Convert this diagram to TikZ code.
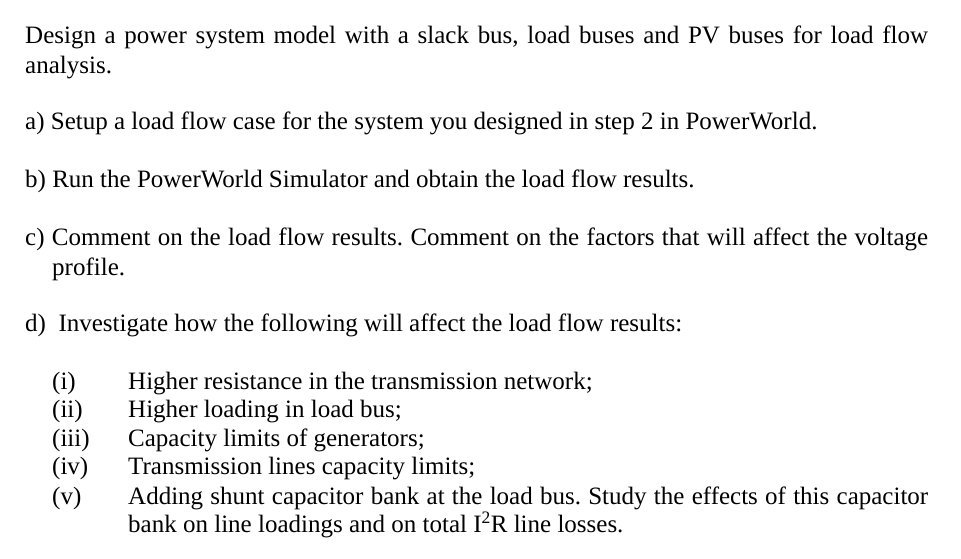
\documentclass[tikz,border=0pt]{standalone}
\usepackage{fontspec}
\setmainfont{Liberation Serif}
\frenchspacing
\begin{document}
\begin{tikzpicture}[x=1pt,y=1pt,txt/.style={anchor=base west,inner sep=0pt,font=\fontsize{25}{30}\selectfont\frenchspacing}]
\useasboundingbox[fill=white] (0,0) rectangle (961,559);
\node[txt] (l1) at (25,559-44) {\makebox[903pt][s]{Design a power system model with a slack bus, load buses and PV buses for load flow}};
\node[txt] (l2) at (25,559-74) {analysis.};
\node[txt] (la) at (25,559-130) {a) Setup a load flow case for the system you designed in step 2 in PowerWorld.};
\node[txt] (lb) at (25,559-188) {b) Run the PowerWorld Simulator and obtain the load flow results.};
\node[txt] (lc) at (25,559-246) {\makebox[903pt][s]{c) Comment on the load flow results. Comment on the factors that will affect the voltage}};
\node[txt] (lc2) at (52,559-276) {profile.};
\node[txt] (ld) at (25,559-332) {d)\ \ Investigate how the following will affect the load flow results:};
\node[txt] (n1) at (52,559-390) {(i)};
\node[txt] (t1) at (128,559-390) {Higher resistance in the transmission network;};
\node[txt] (n2) at (52,559-418) {(ii)};
\node[txt] (t2) at (128,559-418) {Higher loading in load bus;};
\node[txt] (n3) at (52,559-447) {(iii)};
\node[txt] (t3) at (128,559-447) {Capacity limits of generators;};
\node[txt] (n4) at (52,559-475) {(iv)};
\node[txt] (t4) at (128,559-475) {Transmission lines capacity limits;};
\node[txt] (n5) at (52,559-505) {(v)};
\node[txt] (t5) at (128,559-505) {\makebox[800pt][s]{Adding shunt capacitor bank at the load bus. Study the effects of this capacitor}};
\node[txt] (t6) at (128,559-533) {bank on line loadings and on total I\textsuperscript{2}R line losses.};
\end{tikzpicture}
\end{document}
